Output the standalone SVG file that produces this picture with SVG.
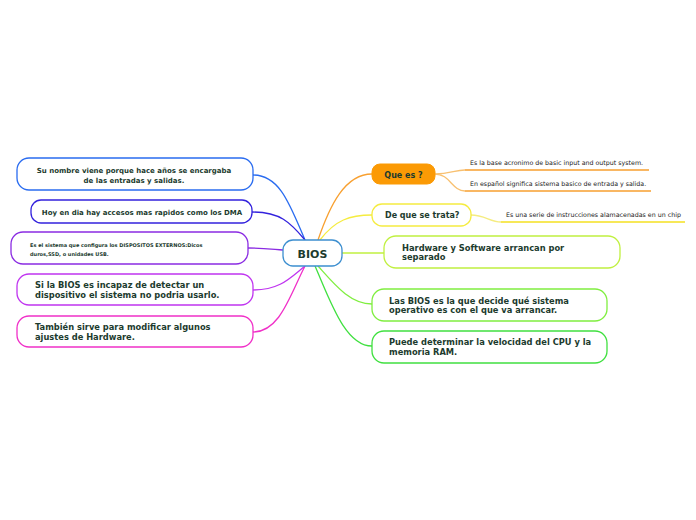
<svg xmlns="http://www.w3.org/2000/svg" width="696" height="520" viewBox="0 0 696 520">
<style>
text{font-family:Verdana,"DejaVu Sans",sans-serif;font-weight:bold;fill:#1c3b2e}
.n{fill:#fff;stroke-width:1.3}
.c{fill:none;stroke-width:1.3}
.s{font-weight:normal;font-size:6.3px;fill:#222}
</style>
<rect width="696" height="520" fill="#fff"/>
<g id="connectors">
<path class="c" stroke="#2a6cf0" d="M305,240 C290,205 280,175 253,175"/>
<path class="c" stroke="#3322dd" d="M305,240 C290,222 280,212 252,212"/>
<path class="c" stroke="#8a2be2" d="M283,250 C270,249 262,248 248,248"/>
<path class="c" stroke="#c035f0" d="M305,266 C290,278 280,290 253,290"/>
<path class="c" stroke="#f030c8" d="M305,266 C290,295 280,332 253,332"/>
<path class="c" stroke="#f8a030" d="M318,240 C330,205 345,174 372,174"/>
<path class="c" stroke="#f8c070" d="M435,174 C450,174 455,170 465,170 M435,174 C450,174 452,191 465,191"/>
<path class="c" stroke="#f8a030" stroke-width="2" d="M465,170 H649 M465,191 H651"/>
<path class="c" stroke="#f5ec40" d="M320,240 C335,220 350,215 372,215"/>
<path class="c" stroke="#f5ec80" d="M471,215 C485,215 490,222 501,222"/>
<path class="c" stroke="#f5e020" stroke-width="2" d="M501,222 H685"/>
<path class="c" stroke="#c0f040" d="M342,253 H384"/>
<path class="c" stroke="#80ee40" d="M318,266 C335,285 350,304 372,304"/>
<path class="c" stroke="#40e040" d="M315,266 C330,300 345,346 372,346"/>
</g>
<g id="bios"><rect x="283" y="240" width="59" height="26" rx="10" fill="#fff" stroke="#3d8fd0" stroke-width="1.3"/><text x="312.5" y="257.5" font-size="11" text-anchor="middle">BIOS</text></g>
<g id="n1"><rect class="n" stroke="#2a6cf0" x="17" y="158" width="236" height="32" rx="12"/><text x="134" y="173" font-size="7" text-anchor="middle">Su nombre viene porque hace años se encargaba</text><text x="134" y="183" font-size="7" text-anchor="middle">de las entradas y salidas.</text></g>
<g id="n2"><rect class="n" stroke="#3322dd" x="31" y="200" width="221" height="23" rx="10"/><text x="142" y="215" font-size="7" text-anchor="middle">Hoy en dia hay accesos mas rapidos como los DMA</text></g>
<g id="n3"><rect class="n" stroke="#8a2be2" x="11" y="232" width="237" height="32" rx="12"/><text x="30" y="247" font-size="5">Es el sistema que configura los DISPOSITOS EXTERNOS:Dicos</text><text x="30" y="256" font-size="5">duros,SSD, o unidades USB.</text></g>
<g id="n4"><rect class="n" stroke="#c035f0" x="17" y="274" width="236" height="31" rx="12"/><text x="35" y="288" font-size="8.3">Si la BIOS es incapaz de detectar un</text><text x="35" y="298" font-size="8.3">dispositivo el sistema no podria usarlo.</text></g>
<g id="n5"><rect class="n" stroke="#f030c8" x="17" y="316" width="236" height="31" rx="12"/><text x="35" y="330" font-size="8.3">También sirve para modificar algunos</text><text x="35" y="340" font-size="8.3">ajustes de Hardware.</text></g>
<g id="queEs"><rect x="372" y="164" width="63" height="20" rx="8" fill="#fb9a05" stroke="#fb9a05"/><text x="403.5" y="177.5" font-size="8" text-anchor="middle">Que es ?</text></g>
<g id="s1"><text class="s" x="470" y="165">Es la base acronimo de basic input and output system.</text></g>
<g id="s2"><text class="s" x="470" y="186">En español significa sistema basico de entrada y salida.</text></g>
<g id="trata"><rect class="n" stroke="#f5ec40" x="372" y="204" width="99" height="22" rx="10"/><text x="385" y="218" font-size="8">De que se trata?</text></g>
<g id="s3"><text class="s" x="506" y="217">Es una serie de instrucciones alamacenadas en un chip</text></g>
<g id="hw"><rect class="n" stroke="#c0f040" x="384" y="236" width="236" height="32" rx="12"/><text x="402" y="251" font-size="8.3">Hardware y Software arrancan por</text><text x="402" y="260" font-size="8.3">separado</text></g>
<g id="las"><rect class="n" stroke="#80ee40" x="372" y="289" width="235" height="32" rx="12"/><text x="389" y="304" font-size="8.3">Las BIOS es la que decide qué sistema</text><text x="389" y="313" font-size="8.3">operativo es con el que va arrancar.</text></g>
<g id="puede"><rect class="n" stroke="#40e040" x="372" y="331" width="235" height="32" rx="12"/><text x="389" y="345" font-size="8.3">Puede determinar la velocidad del CPU y la</text><text x="389" y="355" font-size="8.3">memoria RAM.</text></g>
</svg>
